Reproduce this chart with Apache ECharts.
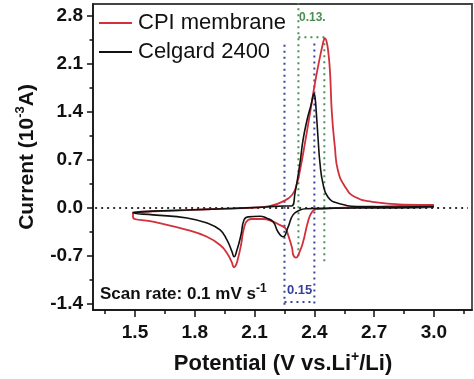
<!DOCTYPE html>
<html>
<head>
<meta charset="utf-8">
<script src="https://cdn.jsdelivr.net/npm/echarts@6/dist/echarts.min.js"></script>
<style>
html,body{margin:0;padding:0;background:#fff;}
#chart{width:474px;height:379px;}
</style>
</head>
<body>
<div id="chart"></div>
<script>
// ---- data (potential in V vs Li+/Li, current in 10^-3 A) ----
const seriesNames = ['CPI membrane', 'Celgard 2400'];

const redCathV = [3.00, 2.85, 2.70, 2.55, 2.45, 2.41, 2.388, 2.368, 2.343, 2.323, 2.308, 2.295, 2.288, 2.268, 2.253, 2.228, 2.193, 2.142, 2.09, 2.067, 2.047, 2.032, 2.012, 2.003, 1.997, 1.991, 1.987, 1.962, 1.927, 1.861, 1.761, 1.59, 1.49];
const redCathI = [0.03, 0.03, 0.02, 0.005, -0.01, -0.015, -0.06, -0.2, -0.5, -0.66, -0.725, -0.69, -0.58, -0.39, -0.29, -0.25, -0.2, -0.16, -0.16, -0.175, -0.29, -0.54, -0.79, -0.85, -0.865, -0.84, -0.80, -0.66, -0.54, -0.42, -0.32, -0.20, -0.13];
const redAnodV = [1.49, 1.59, 1.76, 1.95, 2.10, 2.18, 2.238, 2.288, 2.313, 2.328, 2.353, 2.378, 2.403, 2.428, 2.443, 2.449, 2.455, 2.461, 2.468, 2.478, 2.488, 2.503, 2.518, 2.554, 2.604, 2.69, 2.85, 3.00];
const redAnodI = [-0.06, -0.05, -0.03, -0.01, 0.005, 0.03, 0.09, 0.19, 0.36, 0.55, 0.95, 1.38, 1.82, 2.2, 2.40, 2.46, 2.47, 2.43, 2.32, 2.01, 1.38, 0.89, 0.55, 0.31, 0.16, 0.09, 0.05, 0.045];

const blkCathV = [3.00, 2.80, 2.60, 2.45, 2.36, 2.328, 2.293, 2.268, 2.243, 2.218, 2.193, 2.162, 2.127, 2.067, 2.047, 2.032, 2.012, 1.997, 1.987, 1.962, 1.927, 1.861, 1.761, 1.59, 1.49];
const blkCathI = [0.01, 0.0, 0.0, -0.005, -0.01, -0.03, -0.1, -0.28, -0.42, -0.35, -0.2, -0.15, -0.12, -0.13, -0.175, -0.39, -0.61, -0.71, -0.64, -0.47, -0.32, -0.22, -0.145, -0.10, -0.07];
const blkAnodV = [1.49, 1.59, 1.76, 1.95, 2.16, 2.25, 2.285, 2.303, 2.328, 2.343, 2.363, 2.383, 2.393, 2.398, 2.404, 2.41, 2.418, 2.428, 2.443, 2.468, 2.518, 2.64, 2.80, 3.00];
const blkAnodI = [-0.06, -0.045, -0.03, -0.01, 0.015, 0.03, 0.03, 0.22, 0.66, 0.99, 1.28, 1.5, 1.63, 1.67, 1.6, 1.38, 1.04, 0.66, 0.36, 0.16, 0.07, 0.02, 0.015, 0.02];

const xTicks = [1.5, 1.8, 2.1, 2.4, 2.7, 3.0];
const xMinorTicks = [1.35, 1.65, 1.95, 2.25, 2.55, 2.85, 3.15];
const yTicks = [-1.4, -0.7, 0.0, 0.7, 1.4, 2.1, 2.8];
const yMinorTicks = [-1.05, -0.35, 0.35, 1.05, 1.75, 2.45];

// annotation guide lines: [potential, current from, current to]
const greenGuides = [[2.32, 3.0, -0.76], [2.45, 2.49, -0.79]];
const greenSpan = [2.32, 2.45, 2.49];
const blueGuides = [[2.25, 2.38, -1.42], [2.40, 2.40, -1.42]];
const blueSpan = [2.25, 2.40, -1.37];
const greenLabel = '0.13.';
const blueLabel = '0.15';
const zeroLine = [1.30, 3.17];

// ---- chart ----
const FONT = 'Liberation Sans, Arial, sans-serif';
const xMin = 1.2893, xMax = 3.191, yMin = -1.4874, yMax = 2.975;

function pairs(v, i) { return v.map((x, k) => [x, i[k]]); }

const dotStyle = (color) => ({ color: color, width: 2, type: [2, 4], cap: 'butt' });

const series = [];
series.push({ name: 'zero', type: 'line', data: [[zeroLine[0], 0], [zeroLine[1], 0]], symbol: 'none', silent: true, lineStyle: dotStyle('#333'), z: 1 });
greenGuides.forEach(g => series.push({ type: 'line', data: [[g[0], g[1]], [g[0], g[2]]], symbol: 'none', lineStyle: dotStyle('#4f8f58'), z: 1 }));
series.push({ type: 'line', data: [[greenSpan[0], greenSpan[2]], [greenSpan[1], greenSpan[2]]], symbol: 'none', lineStyle: dotStyle('#4f8f58'), z: 1 });
blueGuides.forEach(g => series.push({ type: 'line', data: [[g[0], g[1]], [g[0], g[2]]], symbol: 'none', lineStyle: dotStyle('#3c4598'), z: 1 }));
series.push({ type: 'line', data: [[blueSpan[0], blueSpan[2]], [blueSpan[1], blueSpan[2]]], symbol: 'none', lineStyle: dotStyle('#3c4598'), z: 1 });

series.push({
  name: seriesNames[0], type: 'line', symbol: 'none', smooth: 0.5, z: 3,
  data: pairs(redCathV, redCathI).concat(pairs(redAnodV, redAnodI)),
  lineStyle: { color: '#d2303a', width: 1.8 }, itemStyle: { color: '#d2303a' }
});
series.push({
  name: seriesNames[1], type: 'line', symbol: 'none', smooth: 0.5, z: 4,
  data: pairs(blkCathV, blkCathI).concat(pairs(blkAnodV, blkAnodI)),
  lineStyle: { color: '#111', width: 1.6 }, itemStyle: { color: '#111' }
});

const chart = echarts.init(document.getElementById('chart'), null, { renderer: 'canvas' });
chart.setOption({
  animation: false,
  backgroundColor: '#fff',
  grid: { left: 93, top: 4, width: 379, height: 306, show: true, borderColor: '#444', borderWidth: 1.8, backgroundColor: 'transparent' },
  legend: {
    data: seriesNames.map(n => ({ name: n, icon: 'rect' })), orient: 'vertical', left: 94, top: 7, itemWidth: 33, itemHeight: 2, itemGap: 7,
    textStyle: { fontFamily: FONT, fontSize: 22, color: '#111', padding: [0, 0, 0, 1] }
  },
  xAxis: [{
    type: 'value', min: xMin, max: xMax, position: 'bottom',
    splitLine: { show: false },
    axisLine: { show: true, onZero: false, lineStyle: { color: '#111', width: 1.5 } },
    axisTick: { show: true, inside: false, length: 7, customValues: xTicks, lineStyle: { color: '#111', width: 1.5 } },
    axisLabel: { show: true, customValues: xTicks, margin: 13, formatter: v => v.toFixed(1), fontFamily: FONT, fontWeight: 'bold', fontSize: 19, color: '#111' }
  }, {
    type: 'value', min: xMin, max: xMax, position: 'bottom',
    splitLine: { show: false },
    axisLine: { show: false, onZero: false },
    axisTick: { show: true, inside: false, length: 4, customValues: xMinorTicks, lineStyle: { color: '#111', width: 1.5 } },
    axisLabel: { show: false }
  }],
  yAxis: [{
    type: 'value', min: yMin, max: yMax, position: 'left',
    splitLine: { show: false },
    axisLine: { show: true, onZero: false, lineStyle: { color: '#111', width: 1.5 } },
    axisTick: { show: true, inside: false, length: 6, customValues: yTicks, lineStyle: { color: '#111', width: 1.5 } },
    axisLabel: { show: true, customValues: yTicks, margin: 10, formatter: v => v.toFixed(1), fontFamily: FONT, fontWeight: 'bold', fontSize: 19, color: '#111' }
  }, {
    type: 'value', min: yMin, max: yMax, position: 'left',
    splitLine: { show: false },
    axisLine: { show: false, onZero: false },
    axisTick: { show: true, inside: false, length: 3.5, customValues: yMinorTicks, lineStyle: { color: '#111', width: 1.5 } },
    axisLabel: { show: false }
  }],
  graphic: [
    {
      type: 'text', x: 283, y: 364, z: 10,
      style: {
        text: '{b|Potential (V vs.Li}{s|+}{b|/Li)}', align: 'center', verticalAlign: 'middle',
        rich: {
          b: { fontFamily: FONT, fontWeight: 'bold', fontSize: 22, lineHeight: 27, fill: '#111' },
          s: { fontFamily: FONT, fontWeight: 'bold', fontSize: 14, lineHeight: 14, verticalAlign: 'top', fill: '#111' }
        }
      }
    },
    {
      type: 'text', x: 27, y: 157, rotation: Math.PI / 2, z: 10,
      style: {
        text: '{b|Current (10}{s|-3}{b|A)}', align: 'center', verticalAlign: 'middle',
        rich: {
          b: { fontFamily: FONT, fontWeight: 'bold', fontSize: 21, lineHeight: 26, fill: '#111' },
          s: { fontFamily: FONT, fontWeight: 'bold', fontSize: 13, lineHeight: 13, verticalAlign: 'top', fill: '#111' }
        }
      }
    },
    {
      type: 'text', x: 100, y: 294, z: 10,
      style: {
        text: '{b|Scan rate: 0.1 mV s}{s|-1}', align: 'left', verticalAlign: 'middle',
        rich: {
          b: { fontFamily: FONT, fontWeight: 'bold', fontSize: 17, lineHeight: 22, fill: '#111' },
          s: { fontFamily: FONT, fontWeight: 'bold', fontSize: 12, lineHeight: 12, verticalAlign: 'top', fill: '#111' }
        }
      }
    },
    {
      type: 'text', x: 299, y: 18, z: 10,
      style: { text: greenLabel, align: 'left', verticalAlign: 'middle', fontFamily: FONT, fontWeight: 'bold', fontSize: 12, fill: '#4a8f50' }
    },
    {
      type: 'text', x: 287, y: 290, z: 10,
      style: { text: blueLabel, align: 'left', verticalAlign: 'middle', fontFamily: FONT, fontWeight: 'bold', fontSize: 13, fill: '#35409a' }
    }
  ],
  series: series
});
</script>
</body>
</html>
